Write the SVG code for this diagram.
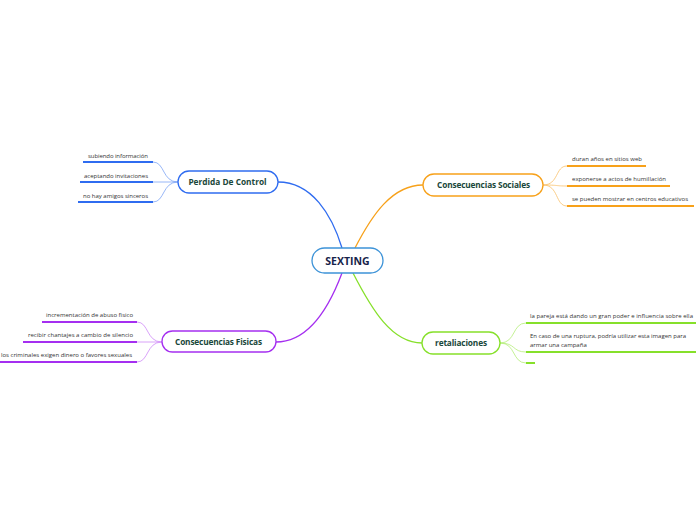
<svg xmlns="http://www.w3.org/2000/svg" width="696" height="520" viewBox="0 0 696 520">
<style>
.node{fill:#fff;stroke-width:1.3}
.main{font-family:"Open Sans","Noto Sans",sans-serif;font-weight:bold;font-size:8.3px;fill:#1a473a;text-anchor:middle}
.root{font-family:"Open Sans","Noto Sans",sans-serif;font-weight:bold;font-size:10.5px;fill:#17244a;text-anchor:middle}
.sub{font-family:"Open Sans","Noto Sans",sans-serif;font-size:6px;fill:#333}
.ul{fill:none;stroke-width:2}
.fk{fill:none;stroke-width:0.8}
.br{fill:none;stroke-width:1.3}
</style>
<rect width="696" height="520" fill="#fff"/>
<g id="connectors">
<path class="br" stroke="#2f6cf0" d="M342,248 C332,215 312,182 278,182"/>
<path class="br" stroke="#f7a11a" d="M355,248 C372,215 392,185 423,185"/>
<path class="br" stroke="#a52ff0" d="M342,273 C330,305 310,342 276,342"/>
<path class="br" stroke="#86e02a" d="M353,273 C372,310 392,343 422,343"/>
<g stroke="#7ea5f5" class="fk">
<path d="M178,182 C162,182 165,162 153,162"/>
<path d="M178,182 L153,182"/>
<path d="M178,182 C162,182 165,202 153,202"/>
</g>
<g stroke="#f9c06a" class="fk">
<path d="M543,185 C559,185 555,166 567,166"/>
<path d="M543,185 C559,185 555,186 567,186"/>
<path d="M543,185 C559,185 555,206 567,206"/>
</g>
<g stroke="#cf8af7" class="fk">
<path d="M162,342 C146,342 149,322 137,322"/>
<path d="M162,342 L137,342"/>
<path d="M162,342 C146,342 149,362 137,362"/>
</g>
<g stroke="#b5ee7a" class="fk">
<path d="M500,343 C516,343 512,323 526,323"/>
<path d="M500,343 C516,343 512,352 526,352"/>
<path d="M500,343 C516,343 512,363 526,363"/>
</g>
</g>
<g id="sexting">
<rect class="node" x="312" y="248" width="71" height="25" rx="12.5" stroke="#3d93d8"/>
<text class="root" x="347.5" y="264.5">SEXTING</text>
</g>
<g id="perdida">
<rect class="node" x="178" y="171" width="100" height="22" rx="11" stroke="#2f6cf0"/>
<text class="main" x="227.5" y="185">Perdida De Control</text>
</g>
<g id="perdida-subs">
<path class="ul" stroke="#2f6cf0" d="M83,162H153M80,182H153M78,202H153"/>
<text class="sub" x="148" y="157.5" text-anchor="end" textLength="60">subiendo información</text>
<text class="sub" x="148" y="177.5" text-anchor="end" textLength="64">aceptando invitaciones</text>
<text class="sub" x="148" y="197.5" text-anchor="end" textLength="65">no hay amigos sinceros</text>
</g>
<g id="sociales">
<rect class="node" x="423" y="174" width="120" height="22" rx="11" stroke="#f7a11a"/>
<text class="main" x="483.5" y="188" textLength="93">Consecuencias Sociales</text>
</g>
<g id="sociales-subs">
<path class="ul" stroke="#f7a11a" d="M567,166H646M567,186H670M567,206H694"/>
<text class="sub" x="572" y="160.5" textLength="70">duran años en sitios web</text>
<text class="sub" x="572" y="180.5" textLength="94">exponerse a actos de humillación</text>
<text class="sub" x="572" y="200.5" textLength="116">se pueden mostrar en centros educativos</text>
</g>
<g id="fisicas">
<rect class="node" x="162" y="331" width="114" height="21" rx="10.5" stroke="#a52ff0"/>
<text class="main" x="218.5" y="345" textLength="87">Consecuencias Fisicas</text>
</g>
<g id="fisicas-subs">
<path class="ul" stroke="#a52ff0" d="M42,322H137M23,342H137M0,362H137"/>
<text class="sub" x="133" y="316.5" text-anchor="end" textLength="87">incrementación de abuso fisico</text>
<text class="sub" x="133" y="336.5" text-anchor="end" textLength="105">recibir chantajes a cambio de silencio</text>
<text class="sub" x="132" y="356.5" text-anchor="end" textLength="131">los criminales exigen dinero o favores sexuales</text>
</g>
<g id="retaliaciones">
<rect class="node" x="422" y="332" width="78" height="22" rx="11" stroke="#86e02a"/>
<text class="main" x="461" y="346" textLength="52">retaliaciones</text>
</g>
<g id="retaliaciones-subs">
<path class="ul" stroke="#86e02a" d="M526,323H696M526,352H696M526,363H535"/>
<text class="sub" x="530" y="317.5" textLength="163">la pareja está dando un gran poder e influencia sobre ella</text>
<text class="sub" x="530" y="337.5" textLength="156">En caso de una ruptura, podría utilizar esta imagen para</text>
<text class="sub" x="530" y="346.5">armar una campaña</text>
</g>
</svg>
